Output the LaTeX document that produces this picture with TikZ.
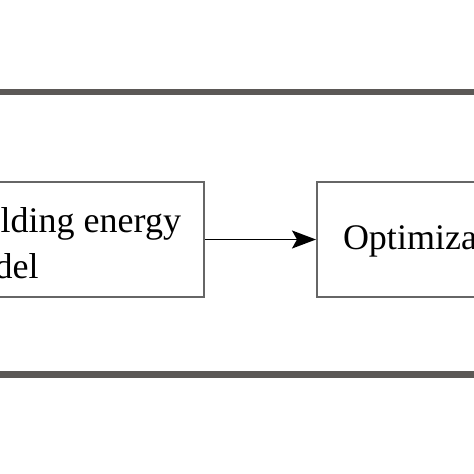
\documentclass[tikz,border=0pt]{standalone}
\usepackage{fontspec}
\setmainfont{Liberation Serif}
\usetikzlibrary{arrows.meta,positioning}
\definecolor{framegray}{HTML}{5B5856}
\definecolor{boxgray}{HTML}{666666}
\tikzset{
  blockbox/.style={draw=boxgray, line width=2pt, minimum height=115pt,
    font=\fontsize{36}{46}\selectfont, align=left},
  frameline/.style={framegray, line width=6.5pt},
}
\begin{document}
\begin{tikzpicture}[x=1pt,y=-1pt]
  \useasboundingbox (0,0) rectangle (474,474);
  \draw[frameline] (-10,92) -- (484,92);
  \draw[frameline] (-10,374.5) -- (484,374.5);

  \node[blockbox, inner xsep=23pt, text height=77pt, text depth=0pt, anchor=east] (energymodel) at (205,239.5) {Building energy\\model};
  \node[blockbox, inner xsep=26pt, text height=26pt, text depth=7pt, anchor=west] (optimization) at (316,239.5) {Optimization};
  \draw[-{Stealth[length=24pt,width=18pt,inset=5pt]}, line width=1.8pt] (energymodel) -- (optimization);
\end{tikzpicture}
\end{document}
